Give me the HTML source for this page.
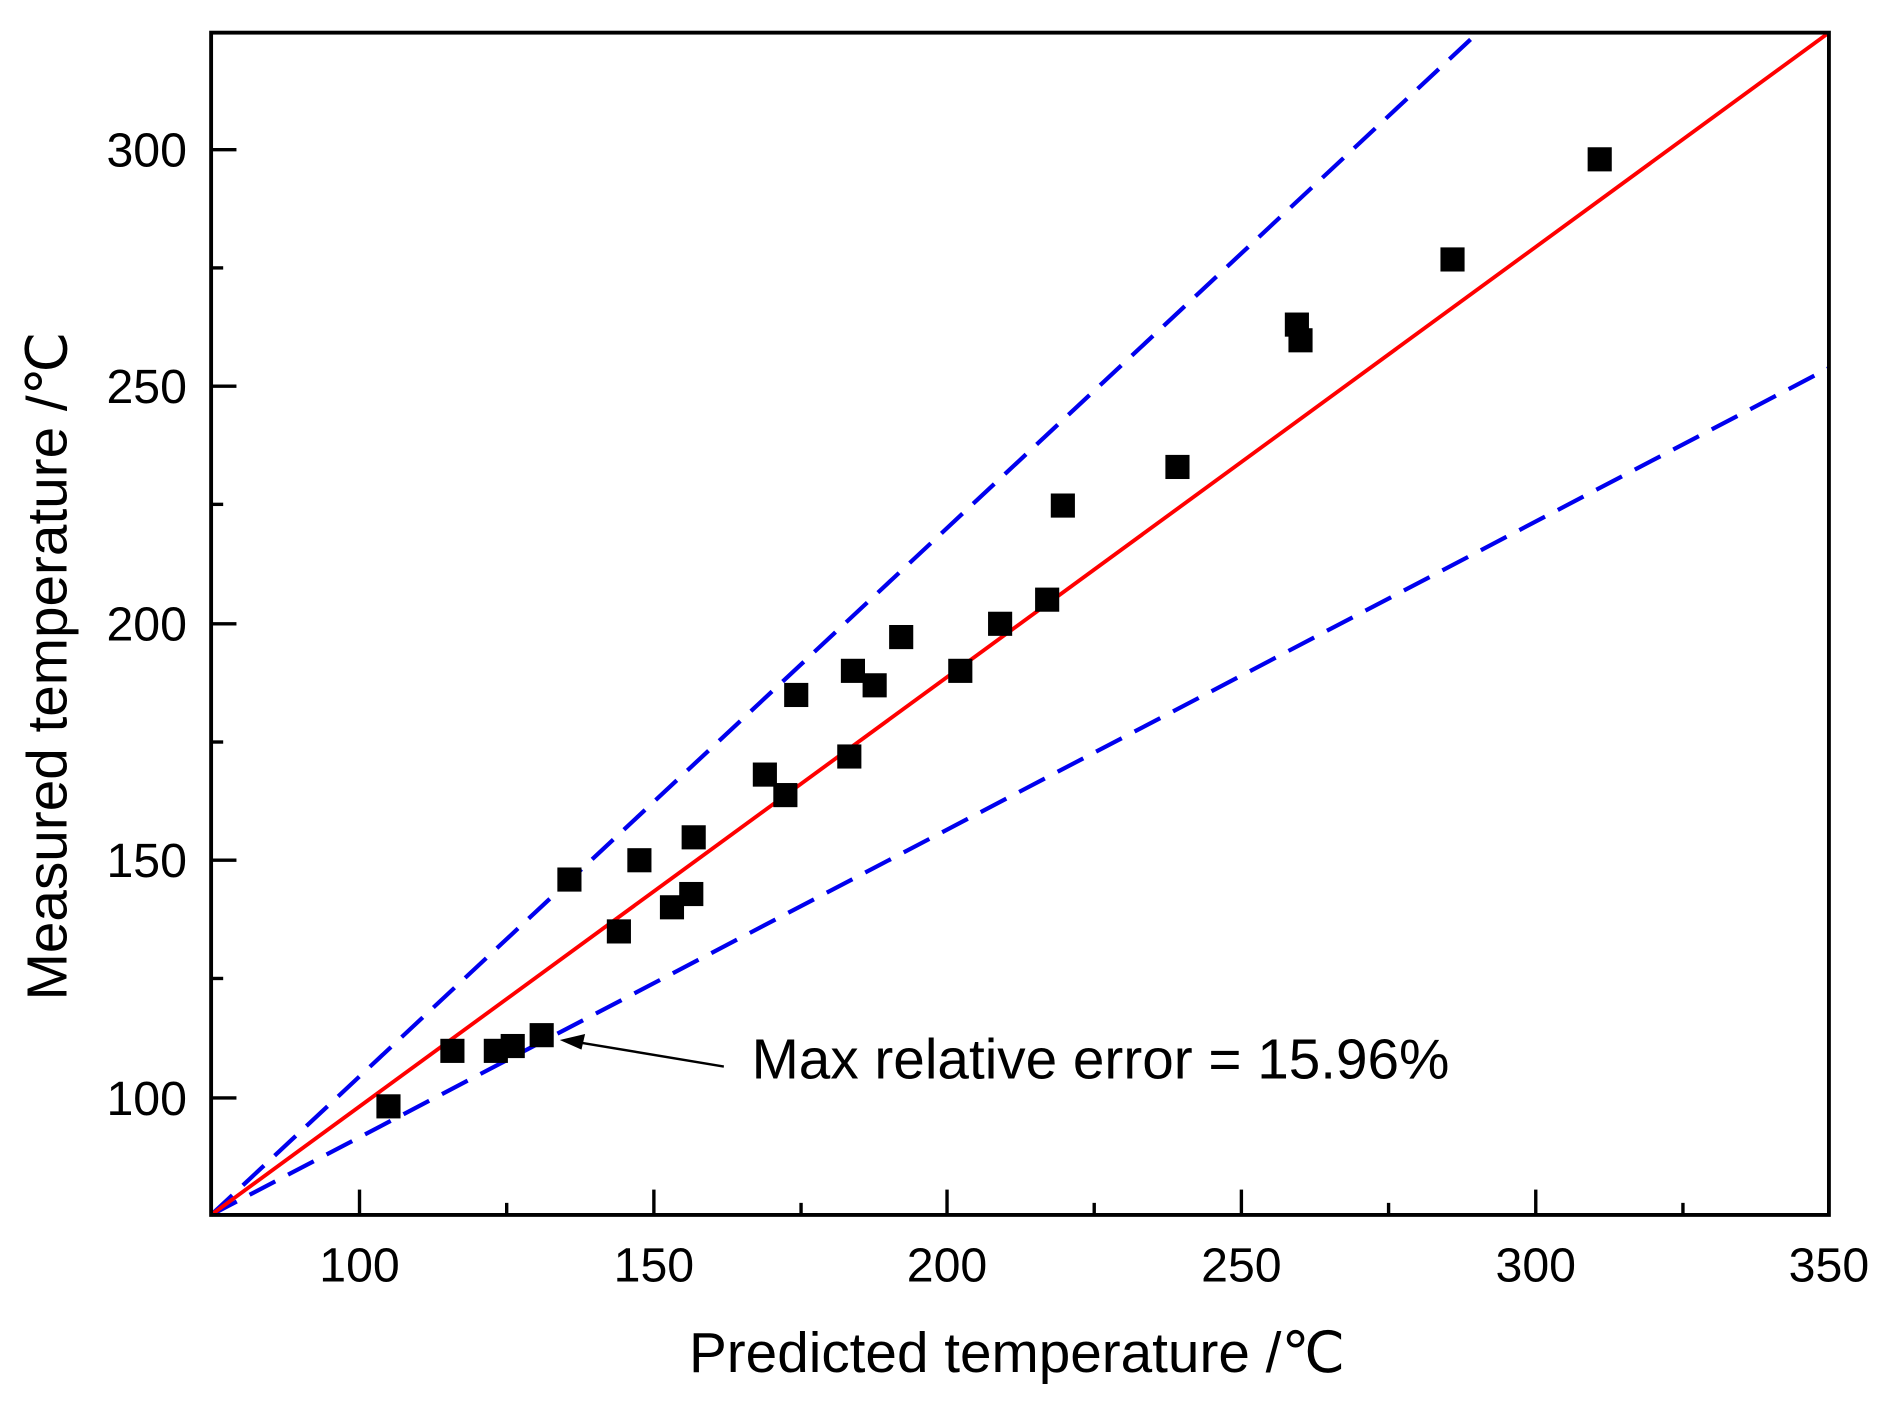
<!DOCTYPE html>
<html><head><meta charset="utf-8"><style>html,body{margin:0;padding:0;background:#fff}svg{display:block}</style></head>
<body>
<svg width="1882" height="1402" viewBox="0 0 1560 1162" xmlns="http://www.w3.org/2000/svg" font-family="Liberation Sans, DejaVu Sans, sans-serif">
<rect width="1560" height="1162" fill="#fff"/>
<g stroke="#0000ee" stroke-width="3.5" stroke-dasharray="24,12" fill="none">
<line x1="175" y1="1007" x2="1225" y2="27"/>
<line x1="175" y1="1007" x2="1516" y2="305"/>
</g>
<line x1="175" y1="1007" x2="1516" y2="27" stroke="#ff0000" stroke-width="3.2"/>
<g fill="#000">
<rect x="312" y="907" width="20" height="20"/><rect x="365" y="861" width="20" height="20"/><rect x="401" y="861" width="20" height="20"/><rect x="415" y="857" width="20" height="20"/><rect x="439" y="848" width="20" height="20"/><rect x="462" y="719" width="20" height="20"/><rect x="503" y="762" width="20" height="20"/><rect x="520" y="703" width="20" height="20"/><rect x="547" y="742" width="20" height="20"/><rect x="563" y="731" width="20" height="20"/><rect x="565" y="684" width="20" height="20"/><rect x="624" y="632" width="20" height="20"/><rect x="641" y="649" width="20" height="20"/><rect x="650" y="566" width="20" height="20"/><rect x="694" y="617" width="20" height="20"/><rect x="697" y="546" width="20" height="20"/><rect x="715" y="558" width="20" height="20"/><rect x="737" y="518" width="20" height="20"/><rect x="786" y="546" width="20" height="20"/><rect x="819" y="507" width="20" height="20"/><rect x="858" y="487" width="20" height="20"/><rect x="871" y="409" width="20" height="20"/><rect x="966" y="377" width="20" height="20"/><rect x="1065" y="259" width="20" height="20"/><rect x="1068" y="272" width="20" height="20"/><rect x="1194" y="205" width="20" height="20"/><rect x="1316" y="122" width="20" height="20"/>
</g>
<rect x="175" y="27" width="1341" height="980" fill="none" stroke="#000" stroke-width="3.2"/>
<g stroke="#000" stroke-width="2.8">
<line x1="298" y1="1007" x2="298" y2="986"/><line x1="542" y1="1007" x2="542" y2="986"/><line x1="785" y1="1007" x2="785" y2="986"/><line x1="1029" y1="1007" x2="1029" y2="986"/><line x1="1273" y1="1007" x2="1273" y2="986"/>
<line x1="420" y1="1007" x2="420" y2="997"/><line x1="664" y1="1007" x2="664" y2="997"/><line x1="907" y1="1007" x2="907" y2="997"/><line x1="1151" y1="1007" x2="1151" y2="997"/><line x1="1395" y1="1007" x2="1395" y2="997"/>
<line x1="175" y1="124" x2="196" y2="124"/><line x1="175" y1="320" x2="196" y2="320"/><line x1="175" y1="517" x2="196" y2="517"/><line x1="175" y1="713" x2="196" y2="713"/><line x1="175" y1="910" x2="196" y2="910"/>
<line x1="175" y1="222" x2="185" y2="222"/><line x1="175" y1="418" x2="185" y2="418"/><line x1="175" y1="615" x2="185" y2="615"/><line x1="175" y1="811" x2="185" y2="811"/>
</g>
<g font-size="40" fill="#000" text-anchor="middle">
<text x="298" y="1062">100</text><text x="542" y="1062">150</text><text x="785" y="1062">200</text><text x="1029" y="1062">250</text><text x="1273" y="1062">300</text><text x="1516" y="1062">350</text>
</g>
<g font-size="40" fill="#000" text-anchor="end">
<text x="155" y="138">300</text><text x="155" y="334">250</text><text x="155" y="531">200</text><text x="155" y="727">150</text><text x="155" y="924">100</text>
</g>
<text x="843" y="1137" font-size="47" text-anchor="middle">Predicted temperature /℃</text>
<text transform="translate(55,552) rotate(-90)" font-size="47" text-anchor="middle">Measured temperature /℃</text>
<line x1="600" y1="884" x2="480" y2="864" stroke="#000" stroke-width="2"/>
<polygon points="464,862 485,857 482,870" fill="#000"/>
<text x="623" y="894" font-size="47">Max relative error = 15.96%</text>
</svg>
</body></html>
